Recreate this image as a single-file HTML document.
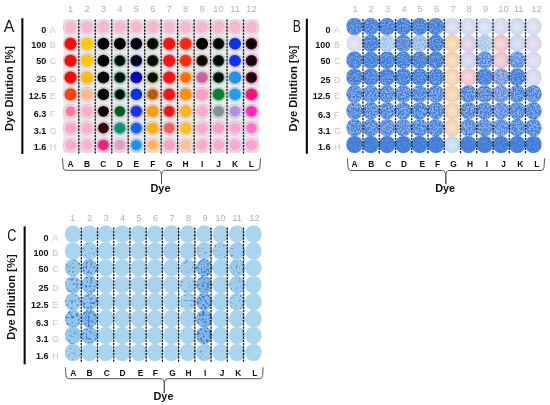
<!DOCTYPE html>
<html lang="en"><head><meta charset="utf-8"><title>Dye dilution plates</title>
<style>html,body{margin:0;padding:0;background:#fff}body{width:550px;height:405px;overflow:hidden}svg{display:block}text{font-family:'Liberation Sans', sans-serif}</style>
</head><body>
<svg width="550" height="405" viewBox="0 0 550 405">
<rect width="550" height="405" fill="#fff"/>
<g id="panelA">
<rect x="63.3" y="19.4" width="195.9" height="133.3" fill="#e9e9ec"/>
<circle cx="70.50" cy="27.00" r="7.6" fill="#c9c9cf"/>
<circle cx="70.50" cy="27.00" r="6.75" fill="#fde3ee"/>
<circle cx="70.50" cy="27.00" r="5.95" fill="#f9b6d1"/>
<circle cx="86.95" cy="27.00" r="7.6" fill="#c9c9cf"/>
<circle cx="86.95" cy="27.00" r="6.75" fill="#fde3ee"/>
<circle cx="86.95" cy="27.00" r="5.95" fill="#f9b6d1"/>
<circle cx="103.40" cy="27.00" r="7.6" fill="#c9c9cf"/>
<circle cx="103.40" cy="27.00" r="6.75" fill="#fde3ee"/>
<circle cx="103.40" cy="27.00" r="5.95" fill="#f9b6d1"/>
<circle cx="119.85" cy="27.00" r="7.6" fill="#c9c9cf"/>
<circle cx="119.85" cy="27.00" r="6.75" fill="#fde3ee"/>
<circle cx="119.85" cy="27.00" r="5.95" fill="#f9b6d1"/>
<circle cx="136.30" cy="27.00" r="7.6" fill="#c9c9cf"/>
<circle cx="136.30" cy="27.00" r="6.75" fill="#fde3ee"/>
<circle cx="136.30" cy="27.00" r="5.95" fill="#f9b6d1"/>
<circle cx="152.75" cy="27.00" r="7.6" fill="#c9c9cf"/>
<circle cx="152.75" cy="27.00" r="6.75" fill="#fde3ee"/>
<circle cx="152.75" cy="27.00" r="5.95" fill="#f9b6d1"/>
<circle cx="169.20" cy="27.00" r="7.6" fill="#c9c9cf"/>
<circle cx="169.20" cy="27.00" r="6.75" fill="#fde3ee"/>
<circle cx="169.20" cy="27.00" r="5.95" fill="#f9b6d1"/>
<circle cx="185.65" cy="27.00" r="7.6" fill="#c9c9cf"/>
<circle cx="185.65" cy="27.00" r="6.75" fill="#fde3ee"/>
<circle cx="185.65" cy="27.00" r="5.95" fill="#f9b6d1"/>
<circle cx="202.10" cy="27.00" r="7.6" fill="#c9c9cf"/>
<circle cx="202.10" cy="27.00" r="6.75" fill="#fde3ee"/>
<circle cx="202.10" cy="27.00" r="5.95" fill="#f9b6d1"/>
<circle cx="218.55" cy="27.00" r="7.6" fill="#c9c9cf"/>
<circle cx="218.55" cy="27.00" r="6.75" fill="#fde3ee"/>
<circle cx="218.55" cy="27.00" r="5.95" fill="#f9b6d1"/>
<circle cx="235.00" cy="27.00" r="7.6" fill="#c9c9cf"/>
<circle cx="235.00" cy="27.00" r="6.75" fill="#fde3ee"/>
<circle cx="235.00" cy="27.00" r="5.95" fill="#f9b6d1"/>
<circle cx="251.45" cy="27.00" r="7.6" fill="#c9c9cf"/>
<circle cx="251.45" cy="27.00" r="6.75" fill="#fde3ee"/>
<circle cx="251.45" cy="27.00" r="5.95" fill="#f9b6d1"/>
<circle cx="70.50" cy="43.86" r="7.6" fill="#c9c9cf"/>
<circle cx="70.50" cy="43.86" r="6.75" fill="#ffa2a2"/>
<circle cx="70.50" cy="43.86" r="6.0" fill="#ff0a0a"/>
<circle cx="86.95" cy="43.86" r="7.6" fill="#c9c9cf"/>
<circle cx="86.95" cy="43.86" r="6.75" fill="#ffeaa4"/>
<circle cx="86.95" cy="43.86" r="6.15" fill="#ffc810"/>
<circle cx="103.40" cy="43.86" r="7.6" fill="#c9c9cf"/>
<circle cx="103.40" cy="43.86" r="6.75" fill="#e4e2e6"/>
<circle cx="103.40" cy="43.86" r="6.0" fill="#050505"/>
<circle cx="119.85" cy="43.86" r="7.6" fill="#c9c9cf"/>
<circle cx="119.85" cy="43.86" r="6.75" fill="#e4e2e6"/>
<circle cx="119.85" cy="43.86" r="6.0" fill="#050505"/>
<circle cx="136.30" cy="43.86" r="7.6" fill="#c9c9cf"/>
<circle cx="136.30" cy="43.86" r="6.75" fill="#e4e2e6"/>
<circle cx="136.30" cy="43.86" r="6.0" fill="#101040"/>
<circle cx="136.30" cy="43.86" r="4.90" fill="#05050f"/>
<circle cx="152.75" cy="43.86" r="7.6" fill="#c9c9cf"/>
<circle cx="152.75" cy="43.86" r="6.75" fill="#e4e2e6"/>
<circle cx="152.75" cy="43.86" r="6.0" fill="#204818"/>
<circle cx="152.75" cy="43.86" r="4.90" fill="#050a05"/>
<circle cx="169.20" cy="43.86" r="7.6" fill="#c9c9cf"/>
<circle cx="169.20" cy="43.86" r="6.75" fill="#ffa5a5"/>
<circle cx="169.20" cy="43.86" r="6.0" fill="#ff1212"/>
<circle cx="185.65" cy="43.86" r="7.6" fill="#c9c9cf"/>
<circle cx="185.65" cy="43.86" r="6.75" fill="#ffb4a6"/>
<circle cx="185.65" cy="43.86" r="6.0" fill="#ff3a16"/>
<circle cx="185.65" cy="43.86" r="4.90" fill="#ff260e"/>
<circle cx="202.10" cy="43.86" r="7.6" fill="#c9c9cf"/>
<circle cx="202.10" cy="43.86" r="6.75" fill="#e4e2e6"/>
<circle cx="202.10" cy="43.86" r="6.0" fill="#0a0505"/>
<circle cx="218.55" cy="43.86" r="7.6" fill="#c9c9cf"/>
<circle cx="218.55" cy="43.86" r="6.75" fill="#e4e2e6"/>
<circle cx="218.55" cy="43.86" r="6.0" fill="#0c5030"/>
<circle cx="218.55" cy="43.86" r="4.90" fill="#050a08"/>
<circle cx="235.00" cy="43.86" r="7.6" fill="#c9c9cf"/>
<circle cx="235.00" cy="43.86" r="6.75" fill="#e4e2e6"/>
<circle cx="235.00" cy="43.86" r="6.0" fill="#1838c0"/>
<circle cx="235.00" cy="43.86" r="4.90" fill="#0a30ff"/>
<circle cx="251.45" cy="43.86" r="7.6" fill="#c9c9cf"/>
<circle cx="251.45" cy="43.86" r="6.75" fill="#e4e2e6"/>
<circle cx="251.45" cy="43.86" r="6.0" fill="#701050"/>
<circle cx="251.45" cy="43.86" r="4.90" fill="#0a0508"/>
<circle cx="70.50" cy="60.72" r="7.6" fill="#c9c9cf"/>
<circle cx="70.50" cy="60.72" r="6.75" fill="#ffa2a2"/>
<circle cx="70.50" cy="60.72" r="6.0" fill="#ff0a0a"/>
<circle cx="86.95" cy="60.72" r="7.6" fill="#c9c9cf"/>
<circle cx="86.95" cy="60.72" r="6.75" fill="#ffe9a4"/>
<circle cx="86.95" cy="60.72" r="6.15" fill="#ffc410"/>
<circle cx="103.40" cy="60.72" r="7.6" fill="#c9c9cf"/>
<circle cx="103.40" cy="60.72" r="6.75" fill="#e4e2e6"/>
<circle cx="103.40" cy="60.72" r="6.0" fill="#050505"/>
<circle cx="119.85" cy="60.72" r="7.6" fill="#c9c9cf"/>
<circle cx="119.85" cy="60.72" r="6.75" fill="#e4e2e6"/>
<circle cx="119.85" cy="60.72" r="6.0" fill="#0a8a4a"/>
<circle cx="119.85" cy="60.72" r="4.90" fill="#050a08"/>
<circle cx="136.30" cy="60.72" r="7.6" fill="#c9c9cf"/>
<circle cx="136.30" cy="60.72" r="6.75" fill="#e4e2e6"/>
<circle cx="136.30" cy="60.72" r="6.0" fill="#1020a0"/>
<circle cx="136.30" cy="60.72" r="4.90" fill="#05051a"/>
<circle cx="152.75" cy="60.72" r="7.6" fill="#c9c9cf"/>
<circle cx="152.75" cy="60.72" r="6.75" fill="#e4e2e6"/>
<circle cx="152.75" cy="60.72" r="6.0" fill="#205a20"/>
<circle cx="152.75" cy="60.72" r="4.90" fill="#050a05"/>
<circle cx="169.20" cy="60.72" r="7.6" fill="#c9c9cf"/>
<circle cx="169.20" cy="60.72" r="6.75" fill="#ffa5a5"/>
<circle cx="169.20" cy="60.72" r="6.0" fill="#ff1212"/>
<circle cx="185.65" cy="60.72" r="7.6" fill="#c9c9cf"/>
<circle cx="185.65" cy="60.72" r="6.75" fill="#ffb7a7"/>
<circle cx="185.65" cy="60.72" r="6.0" fill="#ff4218"/>
<circle cx="185.65" cy="60.72" r="4.90" fill="#ff2a0e"/>
<circle cx="202.10" cy="60.72" r="7.6" fill="#c9c9cf"/>
<circle cx="202.10" cy="60.72" r="6.75" fill="#e4e2e6"/>
<circle cx="202.10" cy="60.72" r="6.0" fill="#704030"/>
<circle cx="202.10" cy="60.72" r="4.90" fill="#0a0505"/>
<circle cx="218.55" cy="60.72" r="7.6" fill="#c9c9cf"/>
<circle cx="218.55" cy="60.72" r="6.75" fill="#e4e2e6"/>
<circle cx="218.55" cy="60.72" r="6.0" fill="#0c6038"/>
<circle cx="218.55" cy="60.72" r="4.90" fill="#050a08"/>
<circle cx="235.00" cy="60.72" r="7.6" fill="#c9c9cf"/>
<circle cx="235.00" cy="60.72" r="6.75" fill="#e4e2e6"/>
<circle cx="235.00" cy="60.72" r="6.0" fill="#2040d0"/>
<circle cx="235.00" cy="60.72" r="4.90" fill="#0a30ff"/>
<circle cx="251.45" cy="60.72" r="7.6" fill="#c9c9cf"/>
<circle cx="251.45" cy="60.72" r="6.75" fill="#e4e2e6"/>
<circle cx="251.45" cy="60.72" r="6.0" fill="#901060"/>
<circle cx="251.45" cy="60.72" r="4.90" fill="#0a0508"/>
<circle cx="70.50" cy="77.58" r="7.6" fill="#c9c9cf"/>
<circle cx="70.50" cy="77.58" r="6.75" fill="#ffa2a2"/>
<circle cx="70.50" cy="77.58" r="6.0" fill="#ff0a0a"/>
<circle cx="86.95" cy="77.58" r="7.6" fill="#c9c9cf"/>
<circle cx="86.95" cy="77.58" r="6.75" fill="#ffe6a4"/>
<circle cx="86.95" cy="77.58" r="6.15" fill="#ffbc10"/>
<circle cx="103.40" cy="77.58" r="7.6" fill="#c9c9cf"/>
<circle cx="103.40" cy="77.58" r="6.75" fill="#e4e2e6"/>
<circle cx="103.40" cy="77.58" r="6.0" fill="#050505"/>
<circle cx="119.85" cy="77.58" r="7.6" fill="#c9c9cf"/>
<circle cx="119.85" cy="77.58" r="6.75" fill="#e4e2e6"/>
<circle cx="119.85" cy="77.58" r="6.0" fill="#0a9a50"/>
<circle cx="119.85" cy="77.58" r="4.90" fill="#050a08"/>
<circle cx="136.30" cy="77.58" r="7.6" fill="#c9c9cf"/>
<circle cx="136.30" cy="77.58" r="6.75" fill="#e4e2e6"/>
<circle cx="136.30" cy="77.58" r="6.0" fill="#1010a0"/>
<circle cx="136.30" cy="77.58" r="4.90" fill="#0808c0"/>
<circle cx="152.75" cy="77.58" r="7.6" fill="#c9c9cf"/>
<circle cx="152.75" cy="77.58" r="6.75" fill="#e4e2e6"/>
<circle cx="152.75" cy="77.58" r="6.0" fill="#88a020"/>
<circle cx="152.75" cy="77.58" r="4.90" fill="#060c04"/>
<circle cx="169.20" cy="77.58" r="7.6" fill="#c9c9cf"/>
<circle cx="169.20" cy="77.58" r="6.75" fill="#ffa5a5"/>
<circle cx="169.20" cy="77.58" r="6.0" fill="#ff1212"/>
<circle cx="185.65" cy="77.58" r="7.6" fill="#c9c9cf"/>
<circle cx="185.65" cy="77.58" r="6.75" fill="#ffdca8"/>
<circle cx="185.65" cy="77.58" r="6.0" fill="#ffa21a"/>
<circle cx="185.65" cy="77.58" r="4.90" fill="#ff6a12"/>
<circle cx="202.10" cy="77.58" r="7.6" fill="#c9c9cf"/>
<circle cx="202.10" cy="77.58" r="6.75" fill="#f3cfe1"/>
<circle cx="202.10" cy="77.58" r="6.0" fill="#e080b0"/>
<circle cx="202.10" cy="77.58" r="4.90" fill="#d0609a"/>
<circle cx="218.55" cy="77.58" r="7.6" fill="#c9c9cf"/>
<circle cx="218.55" cy="77.58" r="6.75" fill="#e4e2e6"/>
<circle cx="218.55" cy="77.58" r="6.0" fill="#109048"/>
<circle cx="218.55" cy="77.58" r="4.90" fill="#050a08"/>
<circle cx="235.00" cy="77.58" r="7.6" fill="#c9c9cf"/>
<circle cx="235.00" cy="77.58" r="6.75" fill="#add2f3"/>
<circle cx="235.00" cy="77.58" r="6.0" fill="#2888e0"/>
<circle cx="235.00" cy="77.58" r="4.90" fill="#1e96f0"/>
<circle cx="251.45" cy="77.58" r="7.6" fill="#c9c9cf"/>
<circle cx="251.45" cy="77.58" r="6.75" fill="#e4e2e6"/>
<circle cx="251.45" cy="77.58" r="6.0" fill="#c01070"/>
<circle cx="251.45" cy="77.58" r="4.90" fill="#0a0508"/>
<circle cx="70.50" cy="94.44" r="7.6" fill="#c9c9cf"/>
<circle cx="70.50" cy="94.44" r="6.75" fill="#ffb0a4"/>
<circle cx="70.50" cy="94.44" r="5.85" fill="#ff3010"/>
<circle cx="70.50" cy="94.44" r="4.75" fill="#ff4808"/>
<circle cx="86.95" cy="94.44" r="7.6" fill="#c9c9cf"/>
<circle cx="86.95" cy="94.44" r="6.75" fill="#ffe4d5"/>
<circle cx="86.95" cy="94.44" r="6.0" fill="#ffb890"/>
<circle cx="103.40" cy="94.44" r="7.6" fill="#c9c9cf"/>
<circle cx="103.40" cy="94.44" r="6.75" fill="#e4e2e6"/>
<circle cx="103.40" cy="94.44" r="5.85" fill="#050505"/>
<circle cx="119.85" cy="94.44" r="7.6" fill="#c9c9cf"/>
<circle cx="119.85" cy="94.44" r="6.75" fill="#e4e2e6"/>
<circle cx="119.85" cy="94.44" r="5.85" fill="#0aa055"/>
<circle cx="119.85" cy="94.44" r="4.75" fill="#050a08"/>
<circle cx="136.30" cy="94.44" r="7.6" fill="#c9c9cf"/>
<circle cx="136.30" cy="94.44" r="6.75" fill="#e4e2e6"/>
<circle cx="136.30" cy="94.44" r="5.85" fill="#1030d0"/>
<circle cx="136.30" cy="94.44" r="4.75" fill="#0830ff"/>
<circle cx="152.75" cy="94.44" r="7.6" fill="#c9c9cf"/>
<circle cx="152.75" cy="94.44" r="6.75" fill="#f9cfa4"/>
<circle cx="152.75" cy="94.44" r="5.85" fill="#f08010"/>
<circle cx="152.75" cy="94.44" r="4.75" fill="#b05a14"/>
<circle cx="169.20" cy="94.44" r="7.6" fill="#c9c9cf"/>
<circle cx="169.20" cy="94.44" r="6.75" fill="#ffa5a5"/>
<circle cx="169.20" cy="94.44" r="5.85" fill="#ff1212"/>
<circle cx="185.65" cy="94.44" r="7.6" fill="#c9c9cf"/>
<circle cx="185.65" cy="94.44" r="6.75" fill="#ffcfa4"/>
<circle cx="185.65" cy="94.44" r="5.85" fill="#ff8010"/>
<circle cx="185.65" cy="94.44" r="4.75" fill="#ff9410"/>
<circle cx="202.10" cy="94.44" r="7.6" fill="#c9c9cf"/>
<circle cx="202.10" cy="94.44" r="6.75" fill="#ffd9e9"/>
<circle cx="202.10" cy="94.44" r="6.0" fill="#ff9cc6"/>
<circle cx="218.55" cy="94.44" r="7.6" fill="#c9c9cf"/>
<circle cx="218.55" cy="94.44" r="6.75" fill="#a4d2b3"/>
<circle cx="218.55" cy="94.44" r="5.85" fill="#108838"/>
<circle cx="218.55" cy="94.44" r="4.75" fill="#0a8030"/>
<circle cx="235.00" cy="94.44" r="7.6" fill="#c9c9cf"/>
<circle cx="235.00" cy="94.44" r="6.75" fill="#abdbf9"/>
<circle cx="235.00" cy="94.44" r="5.85" fill="#22a0f0"/>
<circle cx="251.45" cy="94.44" r="7.6" fill="#c9c9cf"/>
<circle cx="251.45" cy="94.44" r="6.75" fill="#f9aacf"/>
<circle cx="251.45" cy="94.44" r="5.85" fill="#f02080"/>
<circle cx="251.45" cy="94.44" r="4.75" fill="#ff1080"/>
<circle cx="70.50" cy="111.30" r="7.6" fill="#c9c9cf"/>
<circle cx="70.50" cy="111.30" r="6.75" fill="#ffdbe4"/>
<circle cx="70.50" cy="111.30" r="5.6" fill="#ffa0b8"/>
<circle cx="70.50" cy="111.30" r="4.50" fill="#ff7a9c"/>
<circle cx="86.95" cy="111.30" r="7.6" fill="#c9c9cf"/>
<circle cx="86.95" cy="111.30" r="6.75" fill="#ffe1ea"/>
<circle cx="86.95" cy="111.30" r="5.75" fill="#ffb0c8"/>
<circle cx="103.40" cy="111.30" r="7.6" fill="#c9c9cf"/>
<circle cx="103.40" cy="111.30" r="6.75" fill="#e4e2e6"/>
<circle cx="103.40" cy="111.30" r="5.6" fill="#3a1c14"/>
<circle cx="103.40" cy="111.30" r="4.50" fill="#070404"/>
<circle cx="119.85" cy="111.30" r="7.6" fill="#c9c9cf"/>
<circle cx="119.85" cy="111.30" r="6.75" fill="#e4e2e6"/>
<circle cx="119.85" cy="111.30" r="5.6" fill="#0e8a38"/>
<circle cx="119.85" cy="111.30" r="4.50" fill="#075a1c"/>
<circle cx="136.30" cy="111.30" r="7.6" fill="#c9c9cf"/>
<circle cx="136.30" cy="111.30" r="6.75" fill="#b6b0e7"/>
<circle cx="136.30" cy="111.30" r="5.6" fill="#4030c0"/>
<circle cx="136.30" cy="111.30" r="4.50" fill="#0838ff"/>
<circle cx="152.75" cy="111.30" r="7.6" fill="#c9c9cf"/>
<circle cx="152.75" cy="111.30" r="6.75" fill="#ffd5a4"/>
<circle cx="152.75" cy="111.30" r="5.75" fill="#ff9010"/>
<circle cx="152.75" cy="111.30" r="4.65" fill="#ffa010"/>
<circle cx="169.20" cy="111.30" r="7.6" fill="#c9c9cf"/>
<circle cx="169.20" cy="111.30" r="6.75" fill="#f9b0b0"/>
<circle cx="169.20" cy="111.30" r="5.6" fill="#f03030"/>
<circle cx="169.20" cy="111.30" r="4.50" fill="#f01414"/>
<circle cx="185.65" cy="111.30" r="7.6" fill="#c9c9cf"/>
<circle cx="185.65" cy="111.30" r="6.75" fill="#ffdea7"/>
<circle cx="185.65" cy="111.30" r="5.75" fill="#ffa818"/>
<circle cx="185.65" cy="111.30" r="4.65" fill="#ffb420"/>
<circle cx="202.10" cy="111.30" r="7.6" fill="#c9c9cf"/>
<circle cx="202.10" cy="111.30" r="6.75" fill="#ffdfec"/>
<circle cx="202.10" cy="111.30" r="5.75" fill="#ffabce"/>
<circle cx="218.55" cy="111.30" r="7.6" fill="#c9c9cf"/>
<circle cx="218.55" cy="111.30" r="6.75" fill="#d3dbdb"/>
<circle cx="218.55" cy="111.30" r="5.6" fill="#8aa0a0"/>
<circle cx="218.55" cy="111.30" r="4.50" fill="#7e9494"/>
<circle cx="235.00" cy="111.30" r="7.6" fill="#c9c9cf"/>
<circle cx="235.00" cy="111.30" r="6.75" fill="#e4dbf3"/>
<circle cx="235.00" cy="111.30" r="5.6" fill="#b8a0e0"/>
<circle cx="235.00" cy="111.30" r="4.50" fill="#b090e0"/>
<circle cx="251.45" cy="111.30" r="7.6" fill="#c9c9cf"/>
<circle cx="251.45" cy="111.30" r="6.75" fill="#ffb6e7"/>
<circle cx="251.45" cy="111.30" r="5.6" fill="#ff40c0"/>
<circle cx="251.45" cy="111.30" r="4.50" fill="#ff28c0"/>
<circle cx="70.50" cy="128.16" r="7.6" fill="#c9c9cf"/>
<circle cx="70.50" cy="128.16" r="6.75" fill="#ffddeb"/>
<circle cx="70.50" cy="128.16" r="5.75" fill="#ffa6cb"/>
<circle cx="86.95" cy="128.16" r="7.6" fill="#c9c9cf"/>
<circle cx="86.95" cy="128.16" r="6.75" fill="#ffe1ec"/>
<circle cx="86.95" cy="128.16" r="5.75" fill="#ffb0ce"/>
<circle cx="103.40" cy="128.16" r="7.6" fill="#c9c9cf"/>
<circle cx="103.40" cy="128.16" r="6.75" fill="#e4e2e6"/>
<circle cx="103.40" cy="128.16" r="5.6" fill="#602020"/>
<circle cx="103.40" cy="128.16" r="4.50" fill="#300404"/>
<circle cx="119.85" cy="128.16" r="7.6" fill="#c9c9cf"/>
<circle cx="119.85" cy="128.16" r="6.75" fill="#a7d8cc"/>
<circle cx="119.85" cy="128.16" r="5.6" fill="#18987a"/>
<circle cx="119.85" cy="128.16" r="4.50" fill="#109070"/>
<circle cx="136.30" cy="128.16" r="7.6" fill="#c9c9cf"/>
<circle cx="136.30" cy="128.16" r="6.75" fill="#adc6f9"/>
<circle cx="136.30" cy="128.16" r="5.6" fill="#2868f0"/>
<circle cx="136.30" cy="128.16" r="4.50" fill="#1460ff"/>
<circle cx="152.75" cy="128.16" r="7.6" fill="#c9c9cf"/>
<circle cx="152.75" cy="128.16" r="6.75" fill="#ffdea7"/>
<circle cx="152.75" cy="128.16" r="5.75" fill="#ffa818"/>
<circle cx="152.75" cy="128.16" r="4.65" fill="#ffb010"/>
<circle cx="169.20" cy="128.16" r="7.6" fill="#c9c9cf"/>
<circle cx="169.20" cy="128.16" r="6.75" fill="#fcc9c9"/>
<circle cx="169.20" cy="128.16" r="5.6" fill="#f87070"/>
<circle cx="169.20" cy="128.16" r="4.50" fill="#f06060"/>
<circle cx="185.65" cy="128.16" r="7.6" fill="#c9c9cf"/>
<circle cx="185.65" cy="128.16" r="6.75" fill="#ffe4ad"/>
<circle cx="185.65" cy="128.16" r="5.75" fill="#ffb828"/>
<circle cx="185.65" cy="128.16" r="4.65" fill="#ffc020"/>
<circle cx="202.10" cy="128.16" r="7.6" fill="#c9c9cf"/>
<circle cx="202.10" cy="128.16" r="6.75" fill="#ffdfec"/>
<circle cx="202.10" cy="128.16" r="5.75" fill="#ffabce"/>
<circle cx="218.55" cy="128.16" r="7.6" fill="#c9c9cf"/>
<circle cx="218.55" cy="128.16" r="6.75" fill="#ffdbe9"/>
<circle cx="218.55" cy="128.16" r="5.75" fill="#ffa0c4"/>
<circle cx="235.00" cy="128.16" r="7.6" fill="#c9c9cf"/>
<circle cx="235.00" cy="128.16" r="6.75" fill="#ffddef"/>
<circle cx="235.00" cy="128.16" r="5.75" fill="#ffa6d6"/>
<circle cx="251.45" cy="128.16" r="7.6" fill="#c9c9cf"/>
<circle cx="251.45" cy="128.16" r="6.75" fill="#ffd2ed"/>
<circle cx="251.45" cy="128.16" r="5.6" fill="#ff88d0"/>
<circle cx="251.45" cy="128.16" r="4.50" fill="#ff70c8"/>
<circle cx="70.50" cy="145.02" r="7.6" fill="#c9c9cf"/>
<circle cx="70.50" cy="145.02" r="6.75" fill="#ffdfed"/>
<circle cx="70.50" cy="145.02" r="5.75" fill="#ffabcf"/>
<circle cx="86.95" cy="145.02" r="7.6" fill="#c9c9cf"/>
<circle cx="86.95" cy="145.02" r="6.75" fill="#ffe2ee"/>
<circle cx="86.95" cy="145.02" r="5.75" fill="#ffb2d2"/>
<circle cx="103.40" cy="145.02" r="7.6" fill="#c9c9cf"/>
<circle cx="103.40" cy="145.02" r="6.75" fill="#f9b6d5"/>
<circle cx="103.40" cy="145.02" r="5.6" fill="#f04090"/>
<circle cx="103.40" cy="145.02" r="4.50" fill="#f02080"/>
<circle cx="119.85" cy="145.02" r="7.6" fill="#c9c9cf"/>
<circle cx="119.85" cy="145.02" r="6.75" fill="#f6e1ec"/>
<circle cx="119.85" cy="145.02" r="5.75" fill="#e6b0cc"/>
<circle cx="119.85" cy="145.02" r="4.65" fill="#e0a0c0"/>
<circle cx="136.30" cy="145.02" r="7.6" fill="#c9c9cf"/>
<circle cx="136.30" cy="145.02" r="6.75" fill="#b6dbf9"/>
<circle cx="136.30" cy="145.02" r="5.6" fill="#40a0f0"/>
<circle cx="136.30" cy="145.02" r="4.50" fill="#2090f0"/>
<circle cx="152.75" cy="145.02" r="7.6" fill="#c9c9cf"/>
<circle cx="152.75" cy="145.02" r="6.75" fill="#ffe7c9"/>
<circle cx="152.75" cy="145.02" r="5.75" fill="#ffc070"/>
<circle cx="152.75" cy="145.02" r="4.65" fill="#ffb860"/>
<circle cx="169.20" cy="145.02" r="7.6" fill="#c9c9cf"/>
<circle cx="169.20" cy="145.02" r="6.75" fill="#ffdbe9"/>
<circle cx="169.20" cy="145.02" r="5.75" fill="#ffa0c4"/>
<circle cx="185.65" cy="145.02" r="7.6" fill="#c9c9cf"/>
<circle cx="185.65" cy="145.02" r="6.75" fill="#ffe7db"/>
<circle cx="185.65" cy="145.02" r="5.75" fill="#ffc0a0"/>
<circle cx="202.10" cy="145.02" r="7.6" fill="#c9c9cf"/>
<circle cx="202.10" cy="145.02" r="6.75" fill="#ffdfec"/>
<circle cx="202.10" cy="145.02" r="5.75" fill="#ffabce"/>
<circle cx="218.55" cy="145.02" r="7.6" fill="#c9c9cf"/>
<circle cx="218.55" cy="145.02" r="6.75" fill="#ffdfed"/>
<circle cx="218.55" cy="145.02" r="5.75" fill="#ffabcf"/>
<circle cx="235.00" cy="145.02" r="7.6" fill="#c9c9cf"/>
<circle cx="235.00" cy="145.02" r="6.75" fill="#ffdeef"/>
<circle cx="235.00" cy="145.02" r="5.75" fill="#ffa8d6"/>
<circle cx="251.45" cy="145.02" r="7.6" fill="#c9c9cf"/>
<circle cx="251.45" cy="145.02" r="6.75" fill="#ffdcee"/>
<circle cx="251.45" cy="145.02" r="5.75" fill="#ffa2d2"/>
<line x1="78.80" y1="19.5" x2="78.80" y2="153.5" stroke="#141414" stroke-width="1.3" stroke-dasharray="2.3 1"/>
<line x1="95.27" y1="19.5" x2="95.27" y2="153.5" stroke="#141414" stroke-width="1.3" stroke-dasharray="2.3 1"/>
<line x1="111.74" y1="19.5" x2="111.74" y2="153.5" stroke="#141414" stroke-width="1.3" stroke-dasharray="2.3 1"/>
<line x1="128.21" y1="19.5" x2="128.21" y2="153.5" stroke="#141414" stroke-width="1.3" stroke-dasharray="2.3 1"/>
<line x1="144.68" y1="19.5" x2="144.68" y2="153.5" stroke="#141414" stroke-width="1.3" stroke-dasharray="2.3 1"/>
<line x1="161.15" y1="19.5" x2="161.15" y2="153.5" stroke="#141414" stroke-width="1.3" stroke-dasharray="2.3 1"/>
<line x1="177.62" y1="19.5" x2="177.62" y2="153.5" stroke="#141414" stroke-width="1.3" stroke-dasharray="2.3 1"/>
<line x1="194.09" y1="19.5" x2="194.09" y2="153.5" stroke="#141414" stroke-width="1.3" stroke-dasharray="2.3 1"/>
<line x1="210.56" y1="19.5" x2="210.56" y2="153.5" stroke="#141414" stroke-width="1.3" stroke-dasharray="2.3 1"/>
<line x1="227.03" y1="19.5" x2="227.03" y2="153.5" stroke="#141414" stroke-width="1.3" stroke-dasharray="2.3 1"/>
<line x1="243.50" y1="19.5" x2="243.50" y2="153.5" stroke="#141414" stroke-width="1.3" stroke-dasharray="2.3 1"/>
<text x="70.5" y="11.6" font-size="9.3" fill="#b2b2b2" text-anchor="middle">1</text>
<text x="87.0" y="11.6" font-size="9.3" fill="#b2b2b2" text-anchor="middle">2</text>
<text x="103.4" y="11.6" font-size="9.3" fill="#b2b2b2" text-anchor="middle">3</text>
<text x="119.8" y="11.6" font-size="9.3" fill="#b2b2b2" text-anchor="middle">4</text>
<text x="136.3" y="11.6" font-size="9.3" fill="#b2b2b2" text-anchor="middle">5</text>
<text x="152.8" y="11.6" font-size="9.3" fill="#b2b2b2" text-anchor="middle">6</text>
<text x="169.2" y="11.6" font-size="9.3" fill="#b2b2b2" text-anchor="middle">7</text>
<text x="185.6" y="11.6" font-size="9.3" fill="#b2b2b2" text-anchor="middle">8</text>
<text x="202.1" y="11.6" font-size="9.3" fill="#b2b2b2" text-anchor="middle">9</text>
<text x="218.5" y="11.6" font-size="9.3" fill="#b2b2b2" text-anchor="middle">10</text>
<text x="235.0" y="11.6" font-size="9.3" fill="#b2b2b2" text-anchor="middle">11</text>
<text x="251.4" y="11.6" font-size="9.3" fill="#b2b2b2" text-anchor="middle">12</text>
<text x="46.2" y="33.0" font-size="9.0" font-weight="bold" fill="#111" text-anchor="end">0</text>
<text x="49.8" y="33.0" font-size="9.0" fill="#c6c6c6">A</text>
<text x="46.2" y="47.8" font-size="9.0" font-weight="bold" fill="#111" text-anchor="end">100</text>
<text x="49.8" y="47.8" font-size="9.0" fill="#c6c6c6">B</text>
<text x="46.2" y="63.8" font-size="9.0" font-weight="bold" fill="#111" text-anchor="end">50</text>
<text x="49.8" y="63.8" font-size="9.0" fill="#c6c6c6">C</text>
<text x="46.2" y="82.4" font-size="9.0" font-weight="bold" fill="#111" text-anchor="end">25</text>
<text x="49.8" y="82.4" font-size="9.0" fill="#c6c6c6">D</text>
<text x="46.2" y="99.2" font-size="9.0" font-weight="bold" fill="#111" text-anchor="end">12.5</text>
<text x="49.8" y="99.2" font-size="9.0" fill="#c6c6c6">E</text>
<text x="46.2" y="117.4" font-size="9.0" font-weight="bold" fill="#111" text-anchor="end">6.3</text>
<text x="49.8" y="117.4" font-size="9.0" fill="#c6c6c6">F</text>
<text x="46.2" y="133.6" font-size="9.0" font-weight="bold" fill="#111" text-anchor="end">3.1</text>
<text x="49.8" y="133.6" font-size="9.0" fill="#c6c6c6">G</text>
<text x="46.2" y="150.2" font-size="9.0" font-weight="bold" fill="#111" text-anchor="end">1.6</text>
<text x="49.8" y="150.2" font-size="9.0" fill="#c6c6c6">H</text>
<text x="3.8" y="31.8" font-size="17" fill="#111" textLength="10.6" lengthAdjust="spacingAndGlyphs">A</text>
<rect x="21.30" y="18.2" width="2.1" height="135.8" fill="#0a0a0a"/>
<text transform="translate(12.7 131.0) rotate(-90)" font-size="11.2" font-weight="bold" fill="#111" textLength="85.0" lengthAdjust="spacingAndGlyphs">Dye Dilution [%]</text>
<text x="70.5" y="167.1" font-size="8.4" font-weight="bold" fill="#111" text-anchor="middle">A</text>
<text x="87.0" y="167.1" font-size="8.4" font-weight="bold" fill="#111" text-anchor="middle">B</text>
<text x="103.4" y="167.1" font-size="8.4" font-weight="bold" fill="#111" text-anchor="middle">C</text>
<text x="119.8" y="167.1" font-size="8.4" font-weight="bold" fill="#111" text-anchor="middle">D</text>
<text x="136.3" y="167.1" font-size="8.4" font-weight="bold" fill="#111" text-anchor="middle">E</text>
<text x="152.8" y="167.1" font-size="8.4" font-weight="bold" fill="#111" text-anchor="middle">F</text>
<text x="169.2" y="167.1" font-size="8.4" font-weight="bold" fill="#111" text-anchor="middle">G</text>
<text x="185.6" y="167.1" font-size="8.4" font-weight="bold" fill="#111" text-anchor="middle">H</text>
<text x="202.1" y="167.1" font-size="8.4" font-weight="bold" fill="#111" text-anchor="middle">I</text>
<text x="218.5" y="167.1" font-size="8.4" font-weight="bold" fill="#111" text-anchor="middle">J</text>
<text x="235.0" y="167.1" font-size="8.4" font-weight="bold" fill="#111" text-anchor="middle">K</text>
<text x="251.4" y="167.1" font-size="8.4" font-weight="bold" fill="#111" text-anchor="middle">L</text>
<path d="M62.5 158.3 L63.1 167.1 Q63.4 170.3 65.9 170.3 L158.3 170.3 Q161.1 170.5 161.5 175.3 L161.5 184.0 L161.5 175.3 Q161.9 170.5 164.7 170.3 L257.1 170.3 Q259.6 170.3 259.9 167.1 L260.5 158.3" fill="none" stroke="#4a4a4a" stroke-width="0.95" stroke-linejoin="round"/>
<text x="160.5" y="191.6" font-size="10.4" font-weight="bold" fill="#111" text-anchor="middle" textLength="20" lengthAdjust="spacingAndGlyphs">Dye</text>
</g>
<defs><filter id="fB1" x="-2%" y="-2%" width="104%" height="104%" color-interpolation-filters="sRGB">
<feTurbulence type="fractalNoise" baseFrequency="0.62" numOctaves="2" seed="4" result="n"/>
<feColorMatrix in="n" type="matrix" values="0 0 0 0 1  0 0 0 0 1  0 0 0 0 1  4.5 0 0 0 -2.1" result="w0"/>
<feColorMatrix in="w0" type="matrix" values="1 0 0 0 0  0 1 0 0 0  0 0 1 0 0  0 0 0 0.16 0" result="w1"/>
<feGaussianBlur in="w1" stdDeviation="0.48" result="w"/>
<feComposite in="w" in2="SourceAlpha" operator="in" result="wc"/>
<feMerge><feMergeNode in="SourceGraphic"/><feMergeNode in="wc"/></feMerge>
</filter>
<filter id="fB2" x="-2%" y="-2%" width="104%" height="104%" color-interpolation-filters="sRGB">
<feTurbulence type="fractalNoise" baseFrequency="0.62" numOctaves="2" seed="5" result="n"/>
<feColorMatrix in="n" type="matrix" values="0 0 0 0 1  0 0 0 0 1  0 0 0 0 1  4.5 0 0 0 -1.95" result="w0"/>
<feColorMatrix in="w0" type="matrix" values="1 0 0 0 0  0 1 0 0 0  0 0 1 0 0  0 0 0 0.33 0" result="w1"/>
<feGaussianBlur in="w1" stdDeviation="0.48" result="w"/>
<feComposite in="w" in2="SourceAlpha" operator="in" result="wc"/>
<feMerge><feMergeNode in="SourceGraphic"/><feMergeNode in="wc"/></feMerge>
</filter>
<filter id="fB3" x="-2%" y="-2%" width="104%" height="104%" color-interpolation-filters="sRGB">
<feTurbulence type="fractalNoise" baseFrequency="0.62" numOctaves="2" seed="6" result="n"/>
<feColorMatrix in="n" type="matrix" values="0 0 0 0 1  0 0 0 0 1  0 0 0 0 1  4.5 0 0 0 -1.8" result="w0"/>
<feColorMatrix in="w0" type="matrix" values="1 0 0 0 0  0 1 0 0 0  0 0 1 0 0  0 0 0 0.42 0" result="w1"/>
<feGaussianBlur in="w1" stdDeviation="0.48" result="w"/>
<feComposite in="w" in2="SourceAlpha" operator="in" result="wc"/>
<feMerge><feMergeNode in="SourceGraphic"/><feMergeNode in="wc"/></feMerge>
</filter>
<radialGradient id="hl" cx="50%" cy="50%" r="50%"><stop offset="0" stop-color="#fff" stop-opacity="0.42"/><stop offset="0.55" stop-color="#fff" stop-opacity="0.2"/><stop offset="1" stop-color="#fff" stop-opacity="0"/></radialGradient>
<filter id="fC1" x="-2%" y="-2%" width="104%" height="104%" color-interpolation-filters="sRGB">
<feTurbulence type="fractalNoise" baseFrequency="0.42" numOctaves="2" seed="11" result="n"/>
<feColorMatrix in="n" type="matrix" values="0 0 0 0 0.2  0 0 0 0 0.45  0 0 0 0 0.82  9 0 0 0 -5.65" result="w0"/>
<feColorMatrix in="w0" type="matrix" values="1 0 0 0 0  0 1 0 0 0  0 0 1 0 0  0 0 0 0.6 0" result="w1"/>
<feGaussianBlur in="w1" stdDeviation="0.3" result="w"/>
<feComposite in="w" in2="SourceAlpha" operator="in" result="wc"/>
<feMerge><feMergeNode in="SourceGraphic"/><feMergeNode in="wc"/></feMerge>
</filter>
<filter id="fC2" x="-2%" y="-2%" width="104%" height="104%" color-interpolation-filters="sRGB">
<feTurbulence type="fractalNoise" baseFrequency="0.42" numOctaves="2" seed="12" result="n"/>
<feColorMatrix in="n" type="matrix" values="0 0 0 0 0.2  0 0 0 0 0.45  0 0 0 0 0.82  9 0 0 0 -5.3" result="w0"/>
<feColorMatrix in="w0" type="matrix" values="1 0 0 0 0  0 1 0 0 0  0 0 1 0 0  0 0 0 0.7 0" result="w1"/>
<feGaussianBlur in="w1" stdDeviation="0.3" result="w"/>
<feComposite in="w" in2="SourceAlpha" operator="in" result="wc"/>
<feMerge><feMergeNode in="SourceGraphic"/><feMergeNode in="wc"/></feMerge>
</filter>
<filter id="fC3" x="-2%" y="-2%" width="104%" height="104%" color-interpolation-filters="sRGB">
<feTurbulence type="fractalNoise" baseFrequency="0.42" numOctaves="2" seed="13" result="n"/>
<feColorMatrix in="n" type="matrix" values="0 0 0 0 0.2  0 0 0 0 0.45  0 0 0 0 0.82  9 0 0 0 -5.0" result="w0"/>
<feColorMatrix in="w0" type="matrix" values="1 0 0 0 0  0 1 0 0 0  0 0 1 0 0  0 0 0 0.8 0" result="w1"/>
<feGaussianBlur in="w1" stdDeviation="0.3" result="w"/>
<feComposite in="w" in2="SourceAlpha" operator="in" result="wc"/>
<feMerge><feMergeNode in="SourceGraphic"/><feMergeNode in="wc"/></feMerge>
</filter>
<filter id="fC4" x="-2%" y="-2%" width="104%" height="104%" color-interpolation-filters="sRGB">
<feTurbulence type="fractalNoise" baseFrequency="0.42" numOctaves="2" seed="14" result="n"/>
<feColorMatrix in="n" type="matrix" values="0 0 0 0 0.2  0 0 0 0 0.45  0 0 0 0 0.82  9 0 0 0 -4.7" result="w0"/>
<feColorMatrix in="w0" type="matrix" values="1 0 0 0 0  0 1 0 0 0  0 0 1 0 0  0 0 0 0.85 0" result="w1"/>
<feGaussianBlur in="w1" stdDeviation="0.3" result="w"/>
<feComposite in="w" in2="SourceAlpha" operator="in" result="wc"/>
<feMerge><feMergeNode in="SourceGraphic"/><feMergeNode in="wc"/></feMerge>
</filter>
</defs>
<g id="panelB">
<g><rect x="444.02" y="17.90" width="16.2" height="17.2" rx="7.7" ry="8.1" fill="#ccd6ec"/><rect x="460.29" y="17.90" width="16.2" height="17.2" rx="7.7" ry="8.1" fill="#cdd7ee"/><rect x="476.56" y="17.90" width="16.2" height="17.2" rx="7.7" ry="8.1" fill="#cfdaf0"/><rect x="492.83" y="17.90" width="16.2" height="17.2" rx="7.7" ry="8.1" fill="#d0d8ee"/><rect x="509.10" y="17.90" width="16.2" height="17.2" rx="7.7" ry="8.1" fill="#cdd6ee"/><rect x="525.37" y="17.90" width="16.2" height="17.2" rx="7.7" ry="8.1" fill="#d3dcee"/><rect x="346.40" y="34.76" width="16.2" height="17.2" rx="7.7" ry="8.1" fill="#dbdaec"/><rect x="444.02" y="34.76" width="16.2" height="17.2" rx="7.7" ry="8.1" fill="#f5cfa9"/><rect x="460.29" y="34.76" width="16.2" height="17.2" rx="7.7" ry="8.1" fill="#d9cbe8"/><rect x="492.83" y="34.76" width="16.2" height="17.2" rx="7.7" ry="8.1" fill="#efc2c2"/><rect x="509.10" y="34.76" width="16.2" height="17.2" rx="7.7" ry="8.1" fill="#c6d4ee"/><rect x="525.37" y="34.76" width="16.2" height="17.2" rx="7.7" ry="8.1" fill="#dcd2ec"/><rect x="444.02" y="51.62" width="16.2" height="17.2" rx="7.7" ry="8.1" fill="#f5cfa9"/><rect x="460.29" y="51.62" width="16.2" height="17.2" rx="7.7" ry="8.1" fill="#cdd2ee"/><rect x="492.83" y="51.62" width="16.2" height="17.2" rx="7.7" ry="8.1" fill="#e8c2ce"/><rect x="525.37" y="51.62" width="16.2" height="17.2" rx="7.7" ry="8.1" fill="#d6d6f0"/><rect x="444.02" y="68.48" width="16.2" height="17.2" rx="7.7" ry="8.1" fill="#f5cfa9"/><rect x="460.29" y="68.48" width="16.2" height="17.2" rx="7.7" ry="8.1" fill="#f0c2c8"/><rect x="525.37" y="68.48" width="16.2" height="17.2" rx="7.7" ry="8.1" fill="#d2d6f0"/><rect x="444.02" y="85.34" width="16.2" height="17.2" rx="7.7" ry="8.1" fill="#f5cfa9"/><rect x="444.02" y="102.20" width="16.2" height="17.2" rx="7.7" ry="8.1" fill="#f5cfa9"/><rect x="444.02" y="119.06" width="16.2" height="17.2" rx="7.7" ry="8.1" fill="#f5cfa9"/><rect x="444.02" y="135.92" width="16.2" height="17.2" rx="7.7" ry="8.1" fill="#bddbed"/><ellipse cx="451.62" cy="27.00" rx="7.5" ry="8" fill="url(#hl)"/><ellipse cx="467.89" cy="27.00" rx="7.5" ry="8" fill="url(#hl)"/><ellipse cx="484.16" cy="27.00" rx="7.5" ry="8" fill="url(#hl)"/><ellipse cx="500.43" cy="27.00" rx="7.5" ry="8" fill="url(#hl)"/><ellipse cx="516.70" cy="27.00" rx="7.5" ry="8" fill="url(#hl)"/><ellipse cx="532.97" cy="27.00" rx="7.5" ry="8" fill="url(#hl)"/><ellipse cx="354.00" cy="43.86" rx="7.5" ry="8" fill="url(#hl)"/><ellipse cx="451.62" cy="43.86" rx="7.5" ry="8" fill="url(#hl)"/><ellipse cx="467.89" cy="43.86" rx="7.5" ry="8" fill="url(#hl)"/><ellipse cx="500.43" cy="43.86" rx="7.5" ry="8" fill="url(#hl)"/><ellipse cx="516.70" cy="43.86" rx="7.5" ry="8" fill="url(#hl)"/><ellipse cx="532.97" cy="43.86" rx="7.5" ry="8" fill="url(#hl)"/><ellipse cx="451.62" cy="60.72" rx="7.5" ry="8" fill="url(#hl)"/><ellipse cx="467.89" cy="60.72" rx="7.5" ry="8" fill="url(#hl)"/><ellipse cx="500.43" cy="60.72" rx="7.5" ry="8" fill="url(#hl)"/><ellipse cx="532.97" cy="60.72" rx="7.5" ry="8" fill="url(#hl)"/><ellipse cx="451.62" cy="77.58" rx="7.5" ry="8" fill="url(#hl)"/><ellipse cx="467.89" cy="77.58" rx="7.5" ry="8" fill="url(#hl)"/><ellipse cx="532.97" cy="77.58" rx="7.5" ry="8" fill="url(#hl)"/><ellipse cx="451.62" cy="94.44" rx="7.5" ry="8" fill="url(#hl)"/><ellipse cx="451.62" cy="111.30" rx="7.5" ry="8" fill="url(#hl)"/><ellipse cx="451.62" cy="128.16" rx="7.5" ry="8" fill="url(#hl)"/><ellipse cx="451.62" cy="145.02" rx="7.5" ry="8" fill="url(#hl)"/></g>
<g filter="url(#fB1)"><rect x="346.40" y="135.92" width="16.2" height="17.2" rx="7.7" ry="8.1" fill="#3d7cd9"/><rect x="362.67" y="135.92" width="16.2" height="17.2" rx="7.7" ry="8.1" fill="#3d7cd9"/><rect x="378.94" y="135.92" width="16.2" height="17.2" rx="7.7" ry="8.1" fill="#3d7cd9"/><rect x="395.21" y="135.92" width="16.2" height="17.2" rx="7.7" ry="8.1" fill="#3d7cd9"/><rect x="411.48" y="135.92" width="16.2" height="17.2" rx="7.7" ry="8.1" fill="#3d7cd9"/><rect x="427.75" y="135.92" width="16.2" height="17.2" rx="7.7" ry="8.1" fill="#3d7cd9"/><rect x="460.29" y="135.92" width="16.2" height="17.2" rx="7.7" ry="8.1" fill="#3d7cd9"/><rect x="476.56" y="135.92" width="16.2" height="17.2" rx="7.7" ry="8.1" fill="#3d7cd9"/><rect x="492.83" y="135.92" width="16.2" height="17.2" rx="7.7" ry="8.1" fill="#3d7cd9"/><rect x="509.10" y="135.92" width="16.2" height="17.2" rx="7.7" ry="8.1" fill="#3d7cd9"/><rect x="525.37" y="135.92" width="16.2" height="17.2" rx="7.7" ry="8.1" fill="#3d7cd9"/></g>
<g filter="url(#fB2)"><rect x="346.40" y="17.90" width="16.2" height="17.2" rx="7.7" ry="8.1" fill="#3d7cd9"/><rect x="362.67" y="17.90" width="16.2" height="17.2" rx="7.7" ry="8.1" fill="#3d7cd9"/><rect x="378.94" y="17.90" width="16.2" height="17.2" rx="7.7" ry="8.1" fill="#3d7cd9"/><rect x="395.21" y="17.90" width="16.2" height="17.2" rx="7.7" ry="8.1" fill="#3d7cd9"/><rect x="411.48" y="17.90" width="16.2" height="17.2" rx="7.7" ry="8.1" fill="#3d7cd9"/><rect x="427.75" y="17.90" width="16.2" height="17.2" rx="7.7" ry="8.1" fill="#3d7cd9"/><rect x="362.67" y="34.76" width="16.2" height="17.2" rx="7.7" ry="8.1" fill="#3d7cd9"/><rect x="395.21" y="34.76" width="16.2" height="17.2" rx="7.7" ry="8.1" fill="#4a84da"/><rect x="427.75" y="34.76" width="16.2" height="17.2" rx="7.7" ry="8.1" fill="#3d7cd9"/><rect x="346.40" y="51.62" width="16.2" height="17.2" rx="7.7" ry="8.1" fill="#3d7cd9"/><rect x="362.67" y="51.62" width="16.2" height="17.2" rx="7.7" ry="8.1" fill="#3d7cd9"/><rect x="378.94" y="51.62" width="16.2" height="17.2" rx="7.7" ry="8.1" fill="#3d7cd9"/><rect x="395.21" y="51.62" width="16.2" height="17.2" rx="7.7" ry="8.1" fill="#3d7cd9"/><rect x="411.48" y="51.62" width="16.2" height="17.2" rx="7.7" ry="8.1" fill="#3d7cd9"/><rect x="427.75" y="51.62" width="16.2" height="17.2" rx="7.7" ry="8.1" fill="#3d7cd9"/><rect x="346.40" y="68.48" width="16.2" height="17.2" rx="7.7" ry="8.1" fill="#3d7cd9"/><rect x="362.67" y="68.48" width="16.2" height="17.2" rx="7.7" ry="8.1" fill="#3d7cd9"/><rect x="378.94" y="68.48" width="16.2" height="17.2" rx="7.7" ry="8.1" fill="#3d7cd9"/><rect x="395.21" y="68.48" width="16.2" height="17.2" rx="7.7" ry="8.1" fill="#3d7cd9"/><rect x="411.48" y="68.48" width="16.2" height="17.2" rx="7.7" ry="8.1" fill="#3d7cd9"/><rect x="427.75" y="68.48" width="16.2" height="17.2" rx="7.7" ry="8.1" fill="#3d7cd9"/><rect x="476.56" y="68.48" width="16.2" height="17.2" rx="7.7" ry="8.1" fill="#3f7cd8"/><rect x="509.10" y="68.48" width="16.2" height="17.2" rx="7.7" ry="8.1" fill="#3d7cd9"/></g>
<g filter="url(#fB3)"><rect x="378.94" y="34.76" width="16.2" height="17.2" rx="7.7" ry="8.1" fill="#9dc2ea"/><rect x="411.48" y="34.76" width="16.2" height="17.2" rx="7.7" ry="8.1" fill="#86b8e4"/><rect x="476.56" y="34.76" width="16.2" height="17.2" rx="7.7" ry="8.1" fill="#a3c4ea"/><rect x="476.56" y="51.62" width="16.2" height="17.2" rx="7.7" ry="8.1" fill="#4a82da"/><rect x="509.10" y="51.62" width="16.2" height="17.2" rx="7.7" ry="8.1" fill="#4f86dc"/><rect x="492.83" y="68.48" width="16.2" height="17.2" rx="7.7" ry="8.1" fill="#6a8cdc"/><rect x="346.40" y="85.34" width="16.2" height="17.2" rx="7.7" ry="8.1" fill="#3d7cd9"/><rect x="362.67" y="85.34" width="16.2" height="17.2" rx="7.7" ry="8.1" fill="#3d7cd9"/><rect x="378.94" y="85.34" width="16.2" height="17.2" rx="7.7" ry="8.1" fill="#3d7cd9"/><rect x="395.21" y="85.34" width="16.2" height="17.2" rx="7.7" ry="8.1" fill="#3d7cd9"/><rect x="411.48" y="85.34" width="16.2" height="17.2" rx="7.7" ry="8.1" fill="#3d7cd9"/><rect x="427.75" y="85.34" width="16.2" height="17.2" rx="7.7" ry="8.1" fill="#3d7cd9"/><rect x="460.29" y="85.34" width="16.2" height="17.2" rx="7.7" ry="8.1" fill="#3d7cd9"/><rect x="476.56" y="85.34" width="16.2" height="17.2" rx="7.7" ry="8.1" fill="#3d7cd9"/><rect x="492.83" y="85.34" width="16.2" height="17.2" rx="7.7" ry="8.1" fill="#5c88de"/><rect x="509.10" y="85.34" width="16.2" height="17.2" rx="7.7" ry="8.1" fill="#3d7cd9"/><rect x="525.37" y="85.34" width="16.2" height="17.2" rx="7.7" ry="8.1" fill="#3d7cd9"/><rect x="346.40" y="102.20" width="16.2" height="17.2" rx="7.7" ry="8.1" fill="#3d7cd9"/><rect x="362.67" y="102.20" width="16.2" height="17.2" rx="7.7" ry="8.1" fill="#3d7cd9"/><rect x="378.94" y="102.20" width="16.2" height="17.2" rx="7.7" ry="8.1" fill="#3d7cd9"/><rect x="395.21" y="102.20" width="16.2" height="17.2" rx="7.7" ry="8.1" fill="#3d7cd9"/><rect x="411.48" y="102.20" width="16.2" height="17.2" rx="7.7" ry="8.1" fill="#3d7cd9"/><rect x="427.75" y="102.20" width="16.2" height="17.2" rx="7.7" ry="8.1" fill="#3d7cd9"/><rect x="460.29" y="102.20" width="16.2" height="17.2" rx="7.7" ry="8.1" fill="#3d7cd9"/><rect x="476.56" y="102.20" width="16.2" height="17.2" rx="7.7" ry="8.1" fill="#3d7cd9"/><rect x="492.83" y="102.20" width="16.2" height="17.2" rx="7.7" ry="8.1" fill="#5484dc"/><rect x="509.10" y="102.20" width="16.2" height="17.2" rx="7.7" ry="8.1" fill="#3d7cd9"/><rect x="525.37" y="102.20" width="16.2" height="17.2" rx="7.7" ry="8.1" fill="#3d7cd9"/><rect x="346.40" y="119.06" width="16.2" height="17.2" rx="7.7" ry="8.1" fill="#3d7cd9"/><rect x="362.67" y="119.06" width="16.2" height="17.2" rx="7.7" ry="8.1" fill="#3d7cd9"/><rect x="378.94" y="119.06" width="16.2" height="17.2" rx="7.7" ry="8.1" fill="#4780da"/><rect x="395.21" y="119.06" width="16.2" height="17.2" rx="7.7" ry="8.1" fill="#4780da"/><rect x="411.48" y="119.06" width="16.2" height="17.2" rx="7.7" ry="8.1" fill="#3d7cd9"/><rect x="427.75" y="119.06" width="16.2" height="17.2" rx="7.7" ry="8.1" fill="#3d7cd9"/><rect x="460.29" y="119.06" width="16.2" height="17.2" rx="7.7" ry="8.1" fill="#4780da"/><rect x="476.56" y="119.06" width="16.2" height="17.2" rx="7.7" ry="8.1" fill="#4780da"/><rect x="492.83" y="119.06" width="16.2" height="17.2" rx="7.7" ry="8.1" fill="#4c84dc"/><rect x="509.10" y="119.06" width="16.2" height="17.2" rx="7.7" ry="8.1" fill="#3d7cd9"/><rect x="525.37" y="119.06" width="16.2" height="17.2" rx="7.7" ry="8.1" fill="#3d7cd9"/></g>
<line x1="363.00" y1="19" x2="363.00" y2="153.5" stroke="#141414" stroke-width="1.3" stroke-dasharray="2.3 1"/>
<line x1="379.25" y1="19" x2="379.25" y2="153.5" stroke="#141414" stroke-width="1.3" stroke-dasharray="2.3 1"/>
<line x1="395.50" y1="19" x2="395.50" y2="153.5" stroke="#141414" stroke-width="1.3" stroke-dasharray="2.3 1"/>
<line x1="411.75" y1="19" x2="411.75" y2="153.5" stroke="#141414" stroke-width="1.3" stroke-dasharray="2.3 1"/>
<line x1="428.00" y1="19" x2="428.00" y2="153.5" stroke="#141414" stroke-width="1.3" stroke-dasharray="2.3 1"/>
<line x1="444.25" y1="19" x2="444.25" y2="153.5" stroke="#141414" stroke-width="1.3" stroke-dasharray="2.3 1"/>
<line x1="460.50" y1="19" x2="460.50" y2="153.5" stroke="#141414" stroke-width="1.3" stroke-dasharray="2.3 1"/>
<line x1="476.75" y1="19" x2="476.75" y2="153.5" stroke="#141414" stroke-width="1.3" stroke-dasharray="2.3 1"/>
<line x1="493.00" y1="19" x2="493.00" y2="153.5" stroke="#141414" stroke-width="1.3" stroke-dasharray="2.3 1"/>
<line x1="509.25" y1="19" x2="509.25" y2="153.5" stroke="#141414" stroke-width="1.3" stroke-dasharray="2.3 1"/>
<line x1="525.50" y1="19" x2="525.50" y2="153.5" stroke="#141414" stroke-width="1.3" stroke-dasharray="2.3 1"/>
<text x="355.0" y="11.6" font-size="9.3" fill="#b2b2b2" text-anchor="middle">1</text>
<text x="371.0" y="11.6" font-size="9.3" fill="#b2b2b2" text-anchor="middle">2</text>
<text x="387.5" y="11.6" font-size="9.3" fill="#b2b2b2" text-anchor="middle">3</text>
<text x="404.0" y="11.6" font-size="9.3" fill="#b2b2b2" text-anchor="middle">4</text>
<text x="420.0" y="11.6" font-size="9.3" fill="#b2b2b2" text-anchor="middle">5</text>
<text x="436.5" y="11.6" font-size="9.3" fill="#b2b2b2" text-anchor="middle">6</text>
<text x="453.0" y="11.6" font-size="9.3" fill="#b2b2b2" text-anchor="middle">7</text>
<text x="469.0" y="11.6" font-size="9.3" fill="#b2b2b2" text-anchor="middle">8</text>
<text x="485.5" y="11.6" font-size="9.3" fill="#b2b2b2" text-anchor="middle">9</text>
<text x="503.5" y="11.6" font-size="9.3" fill="#b2b2b2" text-anchor="middle">10</text>
<text x="518.5" y="11.6" font-size="9.3" fill="#b2b2b2" text-anchor="middle">11</text>
<text x="536.5" y="11.6" font-size="9.3" fill="#b2b2b2" text-anchor="middle">12</text>
<text x="330.4" y="33.0" font-size="9.0" font-weight="bold" fill="#111" text-anchor="end">0</text>
<text x="334.0" y="33.0" font-size="9.0" fill="#c6c6c6">A</text>
<text x="330.4" y="48.0" font-size="9.0" font-weight="bold" fill="#111" text-anchor="end">100</text>
<text x="334.0" y="48.0" font-size="9.0" fill="#c6c6c6">B</text>
<text x="330.4" y="64.2" font-size="9.0" font-weight="bold" fill="#111" text-anchor="end">50</text>
<text x="334.0" y="64.2" font-size="9.0" fill="#c6c6c6">C</text>
<text x="330.4" y="82.6" font-size="9.0" font-weight="bold" fill="#111" text-anchor="end">25</text>
<text x="334.0" y="82.6" font-size="9.0" fill="#c6c6c6">D</text>
<text x="330.4" y="99.4" font-size="9.0" font-weight="bold" fill="#111" text-anchor="end">12.5</text>
<text x="334.0" y="99.4" font-size="9.0" fill="#c6c6c6">E</text>
<text x="330.4" y="117.7" font-size="9.0" font-weight="bold" fill="#111" text-anchor="end">6.3</text>
<text x="334.0" y="117.7" font-size="9.0" fill="#c6c6c6">F</text>
<text x="330.4" y="134.0" font-size="9.0" font-weight="bold" fill="#111" text-anchor="end">3.1</text>
<text x="334.0" y="134.0" font-size="9.0" fill="#c6c6c6">G</text>
<text x="330.4" y="150.2" font-size="9.0" font-weight="bold" fill="#111" text-anchor="end">1.6</text>
<text x="334.0" y="150.2" font-size="9.0" fill="#c6c6c6">H</text>
<text x="292.8" y="31.8" font-size="17" fill="#111" textLength="8.2" lengthAdjust="spacingAndGlyphs">B</text>
<rect x="305.80" y="18.6" width="2.1" height="135.2" fill="#0a0a0a"/>
<text transform="translate(297.2 131.4) rotate(-90)" font-size="11.2" font-weight="bold" fill="#111" textLength="85.8" lengthAdjust="spacingAndGlyphs">Dye Dilution [%]</text>
<text x="354.6" y="167.0" font-size="8.4" font-weight="bold" fill="#111" text-anchor="middle">A</text>
<text x="371.2" y="167.0" font-size="8.4" font-weight="bold" fill="#111" text-anchor="middle">B</text>
<text x="388.4" y="167.0" font-size="8.4" font-weight="bold" fill="#111" text-anchor="middle">C</text>
<text x="404.0" y="167.0" font-size="8.4" font-weight="bold" fill="#111" text-anchor="middle">D</text>
<text x="422.4" y="167.0" font-size="8.4" font-weight="bold" fill="#111" text-anchor="middle">E</text>
<text x="437.6" y="167.0" font-size="8.4" font-weight="bold" fill="#111" text-anchor="middle">F</text>
<text x="453.6" y="167.0" font-size="8.4" font-weight="bold" fill="#111" text-anchor="middle">G</text>
<text x="470.0" y="167.0" font-size="8.4" font-weight="bold" fill="#111" text-anchor="middle">H</text>
<text x="486.8" y="167.0" font-size="8.4" font-weight="bold" fill="#111" text-anchor="middle">I</text>
<text x="503.6" y="167.0" font-size="8.4" font-weight="bold" fill="#111" text-anchor="middle">J</text>
<text x="520.4" y="167.0" font-size="8.4" font-weight="bold" fill="#111" text-anchor="middle">K</text>
<text x="536.8" y="167.0" font-size="8.4" font-weight="bold" fill="#111" text-anchor="middle">L</text>
<path d="M347.4 158.5 L348.0 167.3 Q348.3 170.5 350.8 170.5 L442.6 170.5 Q445.4 170.7 445.8 175.5 L445.8 184.0 L445.8 175.5 Q446.2 170.7 449.0 170.5 L541.2 170.5 Q543.7 170.5 544.0 167.3 L544.6 158.5" fill="none" stroke="#4a4a4a" stroke-width="0.95" stroke-linejoin="round"/>
<text x="445.2" y="192.0" font-size="10.4" font-weight="bold" fill="#111" text-anchor="middle" textLength="20" lengthAdjust="spacingAndGlyphs">Dye</text>
</g>
<g id="panelC">
<g><rect x="64.90" y="225.40" width="16.2" height="17.2" rx="7.7" ry="8.1" fill="#a9d5ee"/><rect x="81.31" y="225.40" width="16.2" height="17.2" rx="7.7" ry="8.1" fill="#a9d5ee"/><rect x="97.72" y="225.40" width="16.2" height="17.2" rx="7.7" ry="8.1" fill="#a9d5ee"/><rect x="114.13" y="225.40" width="16.2" height="17.2" rx="7.7" ry="8.1" fill="#a9d5ee"/><rect x="130.54" y="225.40" width="16.2" height="17.2" rx="7.7" ry="8.1" fill="#a9d5ee"/><rect x="146.95" y="225.40" width="16.2" height="17.2" rx="7.7" ry="8.1" fill="#a9d5ee"/><rect x="163.36" y="225.40" width="16.2" height="17.2" rx="7.7" ry="8.1" fill="#a9d5ee"/><rect x="179.77" y="225.40" width="16.2" height="17.2" rx="7.7" ry="8.1" fill="#a9d5ee"/><rect x="196.18" y="225.40" width="16.2" height="17.2" rx="7.7" ry="8.1" fill="#a9d5ee"/><rect x="212.59" y="225.40" width="16.2" height="17.2" rx="7.7" ry="8.1" fill="#a9d5ee"/><rect x="229.00" y="225.40" width="16.2" height="17.2" rx="7.7" ry="8.1" fill="#a9d5ee"/><rect x="245.41" y="225.40" width="16.2" height="17.2" rx="7.7" ry="8.1" fill="#a9d5ee"/><rect x="64.90" y="242.33" width="16.2" height="17.2" rx="7.7" ry="8.1" fill="#a9d5ee"/><rect x="97.72" y="242.33" width="16.2" height="17.2" rx="7.7" ry="8.1" fill="#a9d5ee"/><rect x="114.13" y="242.33" width="16.2" height="17.2" rx="7.7" ry="8.1" fill="#a9d5ee"/><rect x="130.54" y="242.33" width="16.2" height="17.2" rx="7.7" ry="8.1" fill="#a9d5ee"/><rect x="146.95" y="242.33" width="16.2" height="17.2" rx="7.7" ry="8.1" fill="#a9d5ee"/><rect x="163.36" y="242.33" width="16.2" height="17.2" rx="7.7" ry="8.1" fill="#a8cdec"/><rect x="179.77" y="242.33" width="16.2" height="17.2" rx="7.7" ry="8.1" fill="#a6d3ed"/><rect x="245.41" y="242.33" width="16.2" height="17.2" rx="7.7" ry="8.1" fill="#a9d5ee"/><rect x="97.72" y="259.26" width="16.2" height="17.2" rx="7.7" ry="8.1" fill="#a9d5ee"/><rect x="114.13" y="259.26" width="16.2" height="17.2" rx="7.7" ry="8.1" fill="#a9d5ee"/><rect x="130.54" y="259.26" width="16.2" height="17.2" rx="7.7" ry="8.1" fill="#a9d5ee"/><rect x="146.95" y="259.26" width="16.2" height="17.2" rx="7.7" ry="8.1" fill="#a9d5ee"/><rect x="163.36" y="259.26" width="16.2" height="17.2" rx="7.7" ry="8.1" fill="#a6d3ed"/><rect x="212.59" y="259.26" width="16.2" height="17.2" rx="7.7" ry="8.1" fill="#a6d3ed"/><rect x="245.41" y="259.26" width="16.2" height="17.2" rx="7.7" ry="8.1" fill="#a9d5ee"/><rect x="97.72" y="276.19" width="16.2" height="17.2" rx="7.7" ry="8.1" fill="#a9d5ee"/><rect x="114.13" y="276.19" width="16.2" height="17.2" rx="7.7" ry="8.1" fill="#a9d5ee"/><rect x="130.54" y="276.19" width="16.2" height="17.2" rx="7.7" ry="8.1" fill="#a9d5ee"/><rect x="146.95" y="276.19" width="16.2" height="17.2" rx="7.7" ry="8.1" fill="#a6d3ed"/><rect x="163.36" y="276.19" width="16.2" height="17.2" rx="7.7" ry="8.1" fill="#a9d5ee"/><rect x="212.59" y="276.19" width="16.2" height="17.2" rx="7.7" ry="8.1" fill="#a6d3ed"/><rect x="245.41" y="276.19" width="16.2" height="17.2" rx="7.7" ry="8.1" fill="#a9d5ee"/><rect x="97.72" y="293.12" width="16.2" height="17.2" rx="7.7" ry="8.1" fill="#a9d5ee"/><rect x="114.13" y="293.12" width="16.2" height="17.2" rx="7.7" ry="8.1" fill="#a9d5ee"/><rect x="130.54" y="293.12" width="16.2" height="17.2" rx="7.7" ry="8.1" fill="#a9d5ee"/><rect x="146.95" y="293.12" width="16.2" height="17.2" rx="7.7" ry="8.1" fill="#a9d5ee"/><rect x="163.36" y="293.12" width="16.2" height="17.2" rx="7.7" ry="8.1" fill="#a9d5ee"/><rect x="212.59" y="293.12" width="16.2" height="17.2" rx="7.7" ry="8.1" fill="#a6d3ed"/><rect x="245.41" y="293.12" width="16.2" height="17.2" rx="7.7" ry="8.1" fill="#a9d5ee"/><rect x="97.72" y="310.05" width="16.2" height="17.2" rx="7.7" ry="8.1" fill="#a9d5ee"/><rect x="114.13" y="310.05" width="16.2" height="17.2" rx="7.7" ry="8.1" fill="#a9d5ee"/><rect x="130.54" y="310.05" width="16.2" height="17.2" rx="7.7" ry="8.1" fill="#a9d5ee"/><rect x="146.95" y="310.05" width="16.2" height="17.2" rx="7.7" ry="8.1" fill="#a9d5ee"/><rect x="163.36" y="310.05" width="16.2" height="17.2" rx="7.7" ry="8.1" fill="#a9d5ee"/><rect x="179.77" y="310.05" width="16.2" height="17.2" rx="7.7" ry="8.1" fill="#a6d3ed"/><rect x="212.59" y="310.05" width="16.2" height="17.2" rx="7.7" ry="8.1" fill="#a9d5ee"/><rect x="229.00" y="310.05" width="16.2" height="17.2" rx="7.7" ry="8.1" fill="#a6d3ed"/><rect x="245.41" y="310.05" width="16.2" height="17.2" rx="7.7" ry="8.1" fill="#a9d5ee"/><rect x="97.72" y="326.98" width="16.2" height="17.2" rx="7.7" ry="8.1" fill="#a9d5ee"/><rect x="114.13" y="326.98" width="16.2" height="17.2" rx="7.7" ry="8.1" fill="#a9d5ee"/><rect x="130.54" y="326.98" width="16.2" height="17.2" rx="7.7" ry="8.1" fill="#a9d5ee"/><rect x="146.95" y="326.98" width="16.2" height="17.2" rx="7.7" ry="8.1" fill="#a9d5ee"/><rect x="163.36" y="326.98" width="16.2" height="17.2" rx="7.7" ry="8.1" fill="#a9d5ee"/><rect x="179.77" y="326.98" width="16.2" height="17.2" rx="7.7" ry="8.1" fill="#a9d5ee"/><rect x="212.59" y="326.98" width="16.2" height="17.2" rx="7.7" ry="8.1" fill="#a6d3ed"/><rect x="229.00" y="326.98" width="16.2" height="17.2" rx="7.7" ry="8.1" fill="#a9d5ee"/><rect x="245.41" y="326.98" width="16.2" height="17.2" rx="7.7" ry="8.1" fill="#a9d5ee"/><rect x="81.31" y="343.91" width="16.2" height="17.2" rx="7.7" ry="8.1" fill="#a6d3ed"/><rect x="97.72" y="343.91" width="16.2" height="17.2" rx="7.7" ry="8.1" fill="#a9d5ee"/><rect x="114.13" y="343.91" width="16.2" height="17.2" rx="7.7" ry="8.1" fill="#a9d5ee"/><rect x="130.54" y="343.91" width="16.2" height="17.2" rx="7.7" ry="8.1" fill="#a9d5ee"/><rect x="146.95" y="343.91" width="16.2" height="17.2" rx="7.7" ry="8.1" fill="#a9d5ee"/><rect x="163.36" y="343.91" width="16.2" height="17.2" rx="7.7" ry="8.1" fill="#a9d5ee"/><rect x="179.77" y="343.91" width="16.2" height="17.2" rx="7.7" ry="8.1" fill="#a9d5ee"/><rect x="212.59" y="343.91" width="16.2" height="17.2" rx="7.7" ry="8.1" fill="#a9d5ee"/><rect x="229.00" y="343.91" width="16.2" height="17.2" rx="7.7" ry="8.1" fill="#a9d5ee"/><rect x="245.41" y="343.91" width="16.2" height="17.2" rx="7.7" ry="8.1" fill="#a9d5ee"/></g>
<g filter="url(#fC1)"><rect x="81.31" y="242.33" width="16.2" height="17.2" rx="7.7" ry="8.1" fill="#a1cfec"/><rect x="196.18" y="242.33" width="16.2" height="17.2" rx="7.7" ry="8.1" fill="#a1cfec"/><rect x="212.59" y="242.33" width="16.2" height="17.2" rx="7.7" ry="8.1" fill="#a1cfec"/><rect x="229.00" y="242.33" width="16.2" height="17.2" rx="7.7" ry="8.1" fill="#a1cfec"/><rect x="179.77" y="259.26" width="16.2" height="17.2" rx="7.7" ry="8.1" fill="#a1cfec"/><rect x="229.00" y="259.26" width="16.2" height="17.2" rx="7.7" ry="8.1" fill="#9dcdec"/><rect x="179.77" y="276.19" width="16.2" height="17.2" rx="7.7" ry="8.1" fill="#a1cfec"/><rect x="229.00" y="276.19" width="16.2" height="17.2" rx="7.7" ry="8.1" fill="#9dcdec"/><rect x="179.77" y="293.12" width="16.2" height="17.2" rx="7.7" ry="8.1" fill="#a1cfec"/><rect x="229.00" y="293.12" width="16.2" height="17.2" rx="7.7" ry="8.1" fill="#a1cfec"/><rect x="64.90" y="343.91" width="16.2" height="17.2" rx="7.7" ry="8.1" fill="#a1cfec"/><rect x="196.18" y="343.91" width="16.2" height="17.2" rx="7.7" ry="8.1" fill="#a1cfec"/></g>
<g filter="url(#fC2)"><rect x="64.90" y="259.26" width="16.2" height="17.2" rx="7.7" ry="8.1" fill="#98c9eb"/><rect x="64.90" y="276.19" width="16.2" height="17.2" rx="7.7" ry="8.1" fill="#98c9eb"/><rect x="64.90" y="293.12" width="16.2" height="17.2" rx="7.7" ry="8.1" fill="#98c9eb"/><rect x="64.90" y="326.98" width="16.2" height="17.2" rx="7.7" ry="8.1" fill="#98c9eb"/></g>
<g filter="url(#fC3)"><rect x="81.31" y="259.26" width="16.2" height="17.2" rx="7.7" ry="8.1" fill="#90c3ea"/><rect x="81.31" y="276.19" width="16.2" height="17.2" rx="7.7" ry="8.1" fill="#90c3ea"/><rect x="81.31" y="293.12" width="16.2" height="17.2" rx="7.7" ry="8.1" fill="#90c3ea"/><rect x="64.90" y="310.05" width="16.2" height="17.2" rx="7.7" ry="8.1" fill="#90c3ea"/><rect x="81.31" y="326.98" width="16.2" height="17.2" rx="7.7" ry="8.1" fill="#90c3ea"/></g>
<g filter="url(#fC4)"><rect x="196.18" y="259.26" width="16.2" height="17.2" rx="7.7" ry="8.1" fill="#82b8e7"/><rect x="196.18" y="276.19" width="16.2" height="17.2" rx="7.7" ry="8.1" fill="#82b8e7"/><rect x="196.18" y="293.12" width="16.2" height="17.2" rx="7.7" ry="8.1" fill="#82b8e7"/><rect x="81.31" y="310.05" width="16.2" height="17.2" rx="7.7" ry="8.1" fill="#82b8e7"/><rect x="196.18" y="310.05" width="16.2" height="17.2" rx="7.7" ry="8.1" fill="#82b8e7"/><rect x="196.18" y="326.98" width="16.2" height="17.2" rx="7.7" ry="8.1" fill="#82b8e7"/></g>
<line x1="81.30" y1="227.5" x2="81.30" y2="362" stroke="#141414" stroke-width="1.3" stroke-dasharray="2.3 1"/>
<line x1="97.52" y1="227.5" x2="97.52" y2="362" stroke="#141414" stroke-width="1.3" stroke-dasharray="2.3 1"/>
<line x1="113.74" y1="227.5" x2="113.74" y2="362" stroke="#141414" stroke-width="1.3" stroke-dasharray="2.3 1"/>
<line x1="129.96" y1="227.5" x2="129.96" y2="362" stroke="#141414" stroke-width="1.3" stroke-dasharray="2.3 1"/>
<line x1="146.18" y1="227.5" x2="146.18" y2="362" stroke="#141414" stroke-width="1.3" stroke-dasharray="2.3 1"/>
<line x1="162.40" y1="227.5" x2="162.40" y2="362" stroke="#141414" stroke-width="1.3" stroke-dasharray="2.3 1"/>
<line x1="178.62" y1="227.5" x2="178.62" y2="362" stroke="#141414" stroke-width="1.3" stroke-dasharray="2.3 1"/>
<line x1="194.84" y1="227.5" x2="194.84" y2="362" stroke="#141414" stroke-width="1.3" stroke-dasharray="2.3 1"/>
<line x1="211.06" y1="227.5" x2="211.06" y2="362" stroke="#141414" stroke-width="1.3" stroke-dasharray="2.3 1"/>
<line x1="227.28" y1="227.5" x2="227.28" y2="362" stroke="#141414" stroke-width="1.3" stroke-dasharray="2.3 1"/>
<line x1="243.50" y1="227.5" x2="243.50" y2="362" stroke="#141414" stroke-width="1.3" stroke-dasharray="2.3 1"/>
<text x="72.5" y="220.6" font-size="9.3" fill="#b2b2b2" text-anchor="middle">1</text>
<text x="89.5" y="220.6" font-size="9.3" fill="#b2b2b2" text-anchor="middle">2</text>
<text x="106.0" y="220.6" font-size="9.3" fill="#b2b2b2" text-anchor="middle">3</text>
<text x="122.5" y="220.6" font-size="9.3" fill="#b2b2b2" text-anchor="middle">4</text>
<text x="139.0" y="220.6" font-size="9.3" fill="#b2b2b2" text-anchor="middle">5</text>
<text x="155.5" y="220.6" font-size="9.3" fill="#b2b2b2" text-anchor="middle">6</text>
<text x="172.0" y="220.6" font-size="9.3" fill="#b2b2b2" text-anchor="middle">7</text>
<text x="188.5" y="220.6" font-size="9.3" fill="#b2b2b2" text-anchor="middle">8</text>
<text x="205.0" y="220.6" font-size="9.3" fill="#b2b2b2" text-anchor="middle">9</text>
<text x="220.5" y="220.6" font-size="9.3" fill="#b2b2b2" text-anchor="middle">10</text>
<text x="237.0" y="220.6" font-size="9.3" fill="#b2b2b2" text-anchor="middle">11</text>
<text x="254.5" y="220.6" font-size="9.3" fill="#b2b2b2" text-anchor="middle">12</text>
<text x="48.6" y="241.0" font-size="9.0" font-weight="bold" fill="#111" text-anchor="end">0</text>
<text x="52.2" y="241.0" font-size="9.0" fill="#c6c6c6">A</text>
<text x="48.6" y="256.2" font-size="9.0" font-weight="bold" fill="#111" text-anchor="end">100</text>
<text x="52.2" y="256.2" font-size="9.0" fill="#c6c6c6">B</text>
<text x="48.6" y="272.4" font-size="9.0" font-weight="bold" fill="#111" text-anchor="end">50</text>
<text x="52.2" y="272.4" font-size="9.0" fill="#c6c6c6">C</text>
<text x="48.6" y="291.2" font-size="9.0" font-weight="bold" fill="#111" text-anchor="end">25</text>
<text x="52.2" y="291.2" font-size="9.0" fill="#c6c6c6">D</text>
<text x="48.6" y="307.6" font-size="9.0" font-weight="bold" fill="#111" text-anchor="end">12.5</text>
<text x="52.2" y="307.6" font-size="9.0" fill="#c6c6c6">E</text>
<text x="48.6" y="326.0" font-size="9.0" font-weight="bold" fill="#111" text-anchor="end">6.3</text>
<text x="52.2" y="326.0" font-size="9.0" fill="#c6c6c6">F</text>
<text x="48.6" y="342.2" font-size="9.0" font-weight="bold" fill="#111" text-anchor="end">3.1</text>
<text x="52.2" y="342.2" font-size="9.0" fill="#c6c6c6">G</text>
<text x="48.6" y="358.8" font-size="9.0" font-weight="bold" fill="#111" text-anchor="end">1.6</text>
<text x="52.2" y="358.8" font-size="9.0" fill="#c6c6c6">H</text>
<text x="7.2" y="241.0" font-size="17" fill="#111" textLength="9.2" lengthAdjust="spacingAndGlyphs">C</text>
<rect x="23.60" y="226.4" width="2.1" height="138.0" fill="#0a0a0a"/>
<text transform="translate(14.9 339.8) rotate(-90)" font-size="11.2" font-weight="bold" fill="#111" textLength="85.4" lengthAdjust="spacingAndGlyphs">Dye Dilution [%]</text>
<text x="73.4" y="375.5" font-size="8.4" font-weight="bold" fill="#111" text-anchor="middle">A</text>
<text x="89.6" y="375.5" font-size="8.4" font-weight="bold" fill="#111" text-anchor="middle">B</text>
<text x="106.8" y="375.5" font-size="8.4" font-weight="bold" fill="#111" text-anchor="middle">C</text>
<text x="122.6" y="375.5" font-size="8.4" font-weight="bold" fill="#111" text-anchor="middle">D</text>
<text x="140.6" y="375.5" font-size="8.4" font-weight="bold" fill="#111" text-anchor="middle">E</text>
<text x="155.4" y="375.5" font-size="8.4" font-weight="bold" fill="#111" text-anchor="middle">F</text>
<text x="172.4" y="375.5" font-size="8.4" font-weight="bold" fill="#111" text-anchor="middle">G</text>
<text x="188.6" y="375.5" font-size="8.4" font-weight="bold" fill="#111" text-anchor="middle">H</text>
<text x="205.2" y="375.5" font-size="8.4" font-weight="bold" fill="#111" text-anchor="middle">I</text>
<text x="222.0" y="375.5" font-size="8.4" font-weight="bold" fill="#111" text-anchor="middle">J</text>
<text x="238.4" y="375.5" font-size="8.4" font-weight="bold" fill="#111" text-anchor="middle">K</text>
<text x="254.8" y="375.5" font-size="8.4" font-weight="bold" fill="#111" text-anchor="middle">L</text>
<path d="M65.4 367.3 L66.0 375.5 Q66.3 378.7 68.8 378.7 L161.1 378.7 Q163.9 378.9 164.3 383.7 L164.3 393.0 L164.3 383.7 Q164.7 378.9 167.5 378.7 L259.8 378.7 Q262.3 378.7 262.6 375.5 L263.2 367.3" fill="none" stroke="#4a4a4a" stroke-width="0.95" stroke-linejoin="round"/>
<text x="163.5" y="400.0" font-size="10.4" font-weight="bold" fill="#111" text-anchor="middle" textLength="20" lengthAdjust="spacingAndGlyphs">Dye</text>
</g>
</svg>
</body></html>
